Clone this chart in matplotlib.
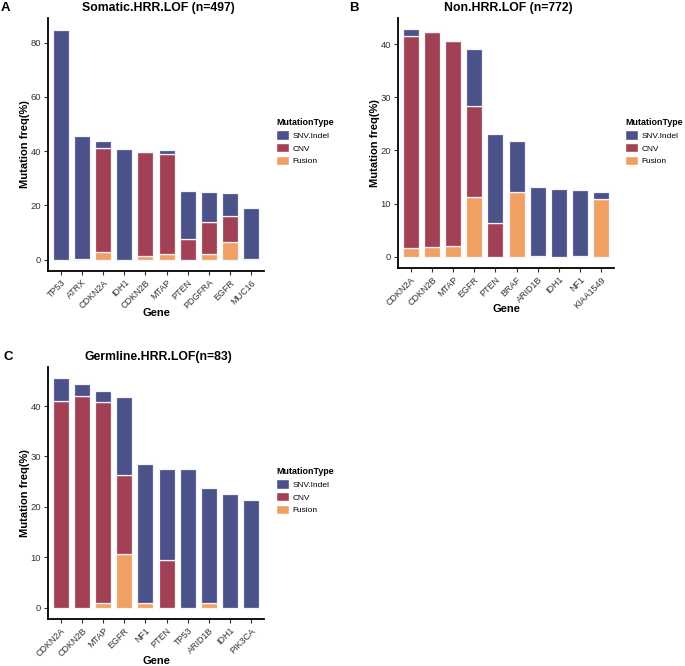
"""
Stacked mutation-frequency bars for three LOF groups (panels A, B, C).
Each gene bar is stacked bottom-up: Fusion, CNV, SNV.Indel.
"""

import matplotlib
matplotlib.use("Agg")
import matplotlib.pyplot as plt
import numpy as np
from matplotlib.patches import Patch

plt.rcParams["font.family"] = ["Liberation Sans", "DejaVu Sans"]

W, H = 685, 666

TYPES = ["SNV.Indel", "CNV", "Fusion"]
COLORS = {"SNV.Indel": "#4b5189", "CNV": "#a24156", "Fusion": "#f0a062"}

# --- panel A: Somatic.HRR.LOF (n=497)
genes_a = ["TP53", "ATRX", "CDKN2A", "IDH1", "CDKN2B", "MTAP", "PTEN",
           "PDGFRA", "EGFR", "MUC16"]
snv_a = [84.8, 45.2, 2.5, 40.7, 0.0, 1.6, 17.7, 11.1, 8.2, 18.8]
cnv_a = [0.0, 0.2, 38.4, 0.0, 38.6, 36.9, 7.7, 11.9, 9.8, 0.2]
fus_a = [0.0, 0.0, 2.8, 0.0, 1.2, 1.9, 0.0, 1.9, 6.4, 0.0]

# --- panel B: Non.HRR.LOF (n=772)
genes_b = ["CDKN2A", "CDKN2B", "MTAP", "EGFR", "PTEN", "BRAF", "ARID1B",
           "IDH1", "NF1", "KIAA1549"]
snv_b = [1.2, 0.0, 0.0, 10.7, 16.7, 9.6, 12.9, 12.8, 12.5, 1.3]
cnv_b = [40.0, 40.4, 38.6, 17.1, 6.4, 0.0, 0.13, 0.0, 0.13, 0.0]
fus_b = [1.6, 1.9, 2.0, 11.3, 0.0, 12.1, 0.0, 0.0, 0.0, 10.9]

# --- panel C: Germline.HRR.LOF(n=83)
genes_c = ["CDKN2A", "CDKN2B", "MTAP", "EGFR", "NF1", "PTEN", "TP53",
           "ARID1B", "IDH1", "PIK3CA"]
snv_c = [4.4, 2.3, 2.2, 15.5, 27.6, 18.0, 27.5, 22.8, 22.6, 21.4]
cnv_c = [41.1, 42.1, 39.9, 15.7, 0.0, 9.5, 0.0, 0.0, 0.0, 0.0]
fus_c = [0.0, 0.0, 1.0, 10.7, 1.0, 0.0, 0.0, 1.0, 0.0, 0.0]


def px_axes(fig, x0, y0, x1, y1):
    """Axes from pixel box (left, top, right, bottom)."""
    return fig.add_axes([x0 / W, 1 - y1 / H, (x1 - x0) / W, (y1 - y0) / H])


def draw_panel(fig, box, genes, snv, cnv, fus, title, letter, letter_x,
               leg_xy, yticks):
    ax = px_axes(fig, *box)
    x = np.arange(len(genes))
    fus = np.array(fus)
    cnv = np.array(cnv)
    snv = np.array(snv)
    kw = dict(width=0.76, edgecolor="#f4f4fa", linewidth=0.9)
    ax.bar(x, fus, color=COLORS["Fusion"], **kw)
    ax.bar(x, cnv, bottom=fus, color=COLORS["CNV"], **kw)
    ax.bar(x, snv, bottom=fus + cnv, color=COLORS["SNV.Indel"], **kw)

    top = (fus + cnv + snv).max()
    ax.set_xlim(-0.6, len(genes) - 0.4)
    ax.set_ylim(-0.05 * top, 1.05 * top)
    ax.set_xticks(x)
    ax.set_xticklabels(genes, rotation=45, ha="right", rotation_mode="anchor",
                       fontsize=6.5, color="#333333")
    ax.set_yticks(yticks)
    ax.tick_params(axis="y", labelsize=6.8, labelcolor="#333333")
    ax.tick_params(length=3, width=0.8, color="#333333", pad=2)
    for s in ("top", "right"):
        ax.spines[s].set_visible(False)
    for s in ("left", "bottom"):
        ax.spines[s].set_linewidth(1.3)
    ax.set_ylabel("Mutation freq(%)", fontsize=8, fontweight="bold")
    ax.yaxis.set_label_coords(-0.085, 0.5)
    ax.set_xlabel("Gene", fontsize=8, fontweight="bold")
    ax.xaxis.set_label_coords(0.5, -0.145)

    x0, y0, x1, y1 = box
    cx = (x0 + x1) / 2 + 2
    fig.text(cx / W, 1 - (y0 - 10) / H, title, ha="center", va="center",
             fontsize=8.8, fontweight="bold")
    fig.text(letter_x / W, 1 - (y0 - 10) / H, letter, ha="left", va="center",
             fontsize=9.5, fontweight="bold")

    handles = [Patch(facecolor=COLORS[t], edgecolor="white", label=t)
               for t in TYPES]
    leg = fig.legend(handles=handles, title="MutationType", frameon=False,
                     loc="upper left",
                     bbox_to_anchor=(leg_xy[0] / W, 1 - leg_xy[1] / H),
                     fontsize=6, title_fontproperties={"weight": "bold",
                                                       "size": 6.4},
                     handlelength=1.5, handleheight=1.35, handletextpad=0.5,
                     labelspacing=0.4, borderaxespad=0, borderpad=0)
    leg._legend_box.align = "left"
    return ax


fig = plt.figure(figsize=(W / 100, H / 100), dpi=100)

draw_panel(fig, (48, 18, 264, 271), genes_a, snv_a, cnv_a, fus_a,
           "Somatic.HRR.LOF (n=497)", "A", 1, (276, 118), [0, 20, 40, 60, 80])
draw_panel(fig, (398, 18, 614, 268), genes_b, snv_b, cnv_b, fus_b,
           "Non.HRR.LOF (n=772)", "B", 349, (625, 118), [0, 10, 20, 30, 40])
draw_panel(fig, (48, 367, 264, 619), genes_c, snv_c, cnv_c, fus_c,
           "Germline.HRR.LOF(n=83)", "C", 3, (276, 467), [0, 10, 20, 30, 40])

fig.savefig("out.png", dpi=100)
plt.close(fig)
